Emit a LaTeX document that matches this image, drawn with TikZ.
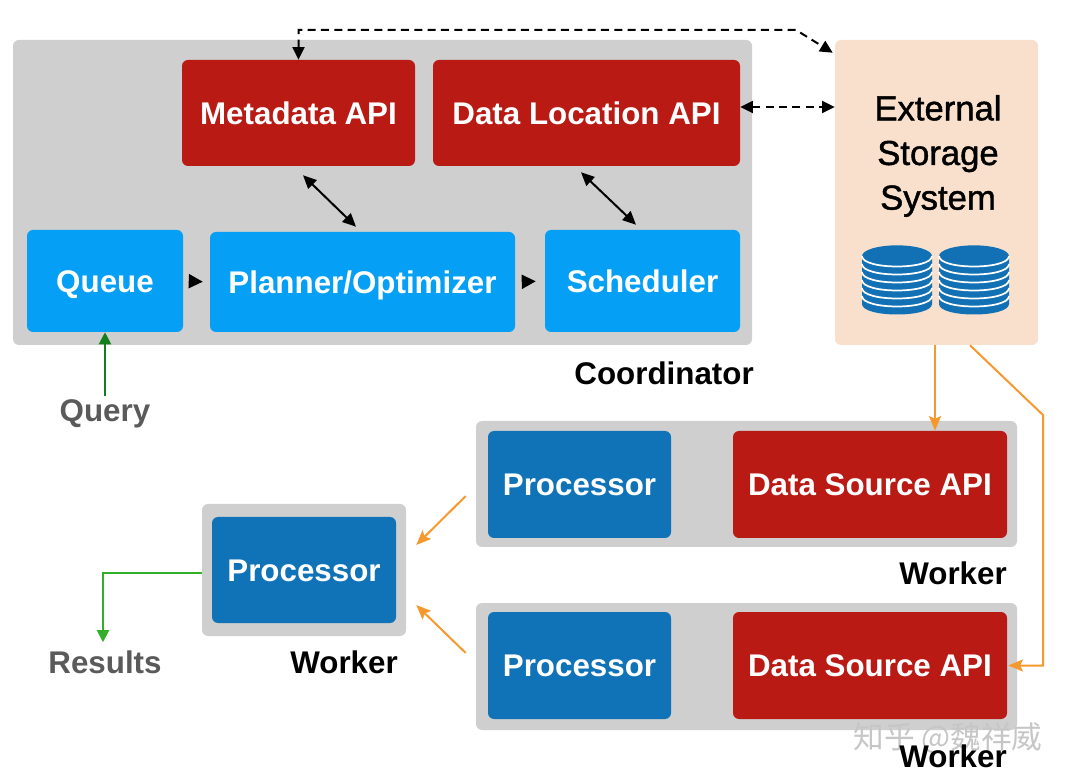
\documentclass[tikz,border=0pt]{standalone}
\usepackage{fontspec}
\setmainfont{Liberation Sans}
\newfontfamily\medfont[FakeBold=1.3]{Liberation Sans}
\newfontfamily\cjkfont{Noto Sans CJK SC}
\usetikzlibrary{arrows.meta,fit,calc}
\definecolor{boxgray}{RGB}{207,207,207}
\definecolor{apired}{RGB}{186,26,20}
\definecolor{lightblue}{RGB}{5,160,246}
\definecolor{darkblue}{RGB}{16,115,183}
\definecolor{peach}{RGB}{249,224,204}
\definecolor{dbblue}{RGB}{18,112,180}
\definecolor{flow}{RGB}{245,152,45}
\definecolor{qgreen}{RGB}{20,125,30}
\definecolor{rgreen}{RGB}{50,175,40}
\definecolor{lblgray}{RGB}{90,90,90}
\begin{document}
\begin{tikzpicture}[x=0.75pt,y=-0.75pt,
  comp/.style={rectangle, rounded corners=4.5pt, inner sep=0pt},
  comptext/.style={inner sep=0pt, text=white, text height=16.8pt, text depth=0pt, font=\bfseries\fontsize{23.5}{28}\selectfont},
  grp/.style={rectangle, rounded corners=4.5pt, inner sep=0pt, fill=boxgray},
  lbl/.style={inner sep=0pt, font=\bfseries\fontsize{23.5}{28}\selectfont},
  blkarrow/.style={line width=1.5pt, {Triangle[length=10pt,width=9pt]}-{Triangle[length=10pt,width=9pt]}},
  steparrow/.style={line width=1.5pt, -{Triangle[length=10.5pt,width=10.5pt]}},
  dasharrow/.style={line width=1.5pt, dash pattern=on 6pt off 4pt, {Triangle[length=9.5pt,width=9pt]}-{Triangle[length=9.5pt,width=9pt]}},
  orarrow/.style={flow, line width=1.5pt, -{Stealth[length=11pt,width=9pt,inset=2pt]}}
]
\useasboundingbox (0,0) rectangle (1076,784);

% Coordinator group
\node[grp, fit={(13,40) (752,345)}] (coord) {};
\node[comp, fill=apired, fit={(182,60) (415,166)}, label={[comptext]center:Metadata API}] (meta) {};
\node[comp, fill=apired, fit={(433,60) (740,166)}, label={[comptext]center:Data Location API}] (dloc) {};
\node[comp, fill=lightblue, fit={(27,230) (183,332)}, label={[comptext]center:Queue}] (queue) {};
\node[comp, fill=lightblue, fit={(210,232) (515,332)}, label={[comptext]center:Planner/Optimizer}] (plan) {};
\node[comp, fill=lightblue, fit={(545,230) (740,332)}, label={[comptext]center:Scheduler}] (sched) {};
\node[lbl, anchor=east] (coordlbl) at (754,373) {Coordinator};

% External storage
\node[rectangle, rounded corners=4.5pt, inner sep=0pt, fill=peach, fit={(835,40) (1038,345)}] (ext) {};
\node[inner sep=0pt, align=center, font=\medfont\fontsize{26}{33.5}\selectfont] (exttxt) at (938,156) {External\\Storage\\System};
\foreach \cx in {897,974} {
  \fill[dbblue] (\cx-35,256) -- (\cx-35,304) .. controls (\cx-35,318) and (\cx+35,318) .. (\cx+35,304) -- (\cx+35,256) -- cycle;
  \fill[dbblue] (\cx,256) ellipse [x radius=26.25pt, y radius=8pt];
  \foreach \k in {0,...,5}
    \draw[white, line width=1.3pt] (\cx-35,256+8*\k) .. controls (\cx-35,270+8*\k) and (\cx+35,270+8*\k) .. (\cx+35,256+8*\k);
}

% Workers
\node[grp, fit={(476,421) (1017,547)}] (w1) {};
\node[comp, fill=darkblue, fit={(488,431) (671,538)}, label={[comptext]center:Processor}] (p1) {};
\node[comp, fill=apired, fit={(733,431) (1007,538)}, label={[comptext]center:Data Source API}] (ds1) {};
\node[lbl, anchor=east] (w1lbl) at (1007,573) {Worker};

\node[grp, fit={(476,603) (1017,730)}] (w2) {};
\node[comp, fill=darkblue, fit={(488,612) (671,719)}, label={[comptext]center:Processor}] (p2) {};
\node[comp, fill=apired, fit={(733,612) (1007,719)}, label={[comptext]center:Data Source API}] (ds2) {};

\node[grp, fit={(202,504) (406,636)}] (wm) {};
\node[comp, fill=darkblue, fit={(212,517) (396,623)}, label={[comptext]center:Processor}] (pm) {};
\node[lbl, anchor=east] (wmlbl) at (398,662) {Worker};

% Query / Results
\node[lbl, text=lblgray] (query) at (105,414) {Query};
\node[lbl, text=lblgray] (results) at (105,662) {Results};

% watermark
\node[inner sep=0pt, text=gray!45, font=\cjkfont\fontsize{23}{28}\selectfont] (wmark) at (948,738) {知乎 @魏祥威};
\node[lbl, anchor=east] (w2lbl) at (1007,756) {Worker};

% Coordinator internal arrows
\draw[steparrow, shorten <=4.5pt, shorten >=5.25pt] (queue.east) -- (plan.west);
\draw[steparrow, shorten <=5.25pt, shorten >=6.75pt] (plan.east) -- (sched.west);
\draw[blkarrow] ([shift={(4.5,9)}]meta.south) -- ([shift={(-6.5,-5)}]plan.north);
\draw[blkarrow] ([shift={(-5.5,6)}]dloc.south) -- ([shift={(-6.5,-5)}]sched.north);

% Dashed links to external storage
\coordinate (dtop) at (796,30);
\draw[dasharrow] (meta.north) |- (dtop) -- ([shift={(-2,13)}]ext.north west);
\coordinate (dl) at ([shift={(0,-6)}]dloc.east);
\draw[dasharrow] (dl) -- (dl -| ext.west);

% Query and results
\draw[qgreen, line width=1.5pt, -{Triangle[length=9pt,width=9pt]}] ([shift={(0,-4)}]query.north) -- (queue.south);
\draw[rgreen, line width=1.5pt, -{Triangle[length=9pt,width=9pt]}] ([shift={(0,3)}]wm.west) -| ([shift={(-2,-8)}]results.north);

% Orange data flow
\draw[orarrow] ([shift={(-1.5,0)}]ext.south) -- ([shift={(-1.5,0)}]ext.south |- ds1.north);
\coordinate (oc) at (1043,415);
\draw[orarrow] ([shift={(33.5,0)}]ext.south) -- (oc) -- (oc |- ds2.east) -- ([shift={(1,0)}]ds2.east);
\draw[orarrow] ([shift={(-10,12)}]w1.west) -- ([shift={(10,-25)}]wm.east);
\draw[orarrow] ([shift={(-10,-13.5)}]w2.west) -- ([shift={(10,35)}]wm.east);
\end{tikzpicture}
\end{document}
